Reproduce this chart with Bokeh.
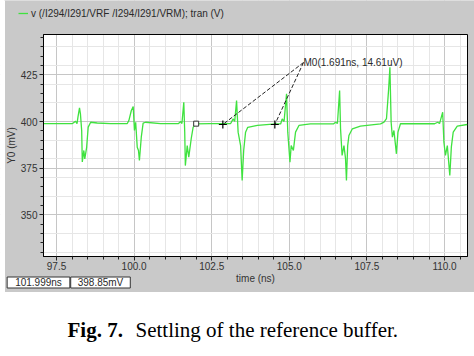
from bokeh.plotting import figure
from bokeh.models import (Label, FixedTicker, Grid, PrintfTickFormatter, Range1d,
                          SingleIntervalTicker, Legend, LegendItem)
from bokeh.embed import file_html
from bokeh.resources import INLINE

# ---- data ----
time_ns = [
    97.09, 98.00, 98.04, 98.11, 98.16, 98.19, 98.24, 98.27, 98.31, 98.33, 98.38, 98.41, 98.47, 98.52, 98.60, 98.81, 99.24,
    99.78, 99.83, 99.91, 99.97, 100.01, 100.05, 100.10, 100.14, 100.17, 100.23, 100.29, 100.37, 100.85,
    101.43, 101.50, 101.54, 101.60, 101.63, 101.65, 101.71, 101.76, 101.84, 101.90, 101.98, 102.46,
    103.11, 103.19, 103.24, 103.30, 103.35, 103.43, 103.48, 103.53, 103.59, 103.66, 103.97, 104.56,
    104.72, 104.77, 104.83, 104.91, 104.95, 105.02, 105.06, 105.13, 105.20, 105.31, 105.68,
    106.42, 106.49, 106.55, 106.62, 106.65, 106.70, 106.76, 106.81, 106.84, 106.88, 106.92, 107.03, 107.29, 107.94,
    108.05, 108.13, 108.20, 108.24, 108.28, 108.32, 108.37, 108.45, 108.50, 108.58, 109.23,
    109.68, 109.78, 109.84, 109.94, 109.98, 110.03, 110.09, 110.17, 110.22, 110.28, 110.41, 110.73,
]
v_mv = [
    398.85, 398.85, 399.2, 400.2, 398.9, 402.3, 407.3, 404.1, 395.2, 378.3, 384.5, 380.0, 386.2, 397.0, 399.6, 399.2, 398.9,
    398.9, 400.5, 405.9, 408.0, 395.2, 399.6, 386.2, 384.5, 379.1, 391.6, 399.1, 399.6, 398.9,
    398.9, 400.0, 398.9, 410.3, 394.3, 376.4, 387.1, 380.9, 390.9, 396.9, 398.7, 398.85,
    398.9, 401.4, 400.0, 411.2, 394.3, 387.1, 368.4, 384.6, 394.3, 396.9, 397.9, 398.7,
    398.7, 401.4, 400.0, 414.8, 394.3, 378.2, 387.1, 384.5, 394.3, 397.9, 398.7,
    398.7, 399.6, 398.9, 416.6, 396.1, 381.8, 387.1, 380.2, 368.4, 387.1, 392.5, 396.1, 397.5, 398.7,
    399.7, 401.6, 417.5, 429.1, 399.6, 391.6, 395.2, 382.7, 394.3, 398.8, 398.8,
    398.8, 399.6, 398.9, 405.0, 388.9, 381.8, 387.1, 371.1, 386.4, 394.3, 397.5, 398.4,
]

x_range_ns = [97.08, 110.74]      # visible time window of the plot area
y_range_mv = [327.7, 446.6]       # visible voltage window of the plot area
y_minor_grid = [330, 340, 360, 370, 380, 390, 410, 420, 430, 440]

cursor_t = [101.999]
cursor_v = [398.85]
marker_t = [102.858, 104.533]
marker_v = [398.4, 398.4]
marker_label_t = [105.457, 105.457]
marker_label_v = [431.6, 431.6]

legend_text = "v (/I294/I291/VRF /I294/I291/VRM); tran (V)"
marker_text = "M0(1.691ns, 14.61uV)"
cursor_time_text = "101.999ns"
cursor_value_text = "398.85mV"
x_title = "time (ns)"
y_title = "Y0 (mV)"
caption_bold = "Fig. 7."
caption_rest = "Settling of  the reference buffer."

FONT = "Liberation Sans"
GRAY = "#c9c9c9"
GREEN = "#3fe23f"
TXT = "#2a2a2a"

# ---- page geometry (pixels) ----
PX_W, PX_H = 474, 356
PLOT_L, PLOT_R, PLOT_T, PLOT_B = 43, 467, 34, 256
PANEL_L, PANEL_B = 4, 292

ns_per_px = (x_range_ns[1] - x_range_ns[0]) / (PLOT_R - PLOT_L)
mv_per_px = (y_range_mv[1] - y_range_mv[0]) / (PLOT_B - PLOT_T)
xr = Range1d(x_range_ns[0] - PLOT_L * ns_per_px, x_range_ns[1] + (PX_W - PLOT_R) * ns_per_px)
yr = Range1d(y_range_mv[0] - (PX_H - PLOT_B) * mv_per_px, y_range_mv[1] + PLOT_T * mv_per_px)

p = figure(width=PX_W, height=PX_H, output_backend="svg", toolbar_location=None,
           x_range=xr, y_range=yr,
           min_border_left=0, min_border_right=0, min_border_top=0, min_border_bottom=0,
           background_fill_color="white", border_fill_color="white",
           outline_line_color=None)
p.extra_x_ranges = {"px": Range1d(0, PX_W)}
p.extra_y_ranges = {"px": Range1d(PX_H, 0)}

# gray instrument panel around the plot area, white page outside it
p.quad(left=[PANEL_L, PANEL_L, PANEL_L, PLOT_R], right=[PX_W, PX_W, PLOT_L, PX_W],
       top=[0, PLOT_B, PLOT_T, PLOT_T], bottom=[PLOT_T, PANEL_B, PLOT_B, PLOT_B],
       x_range_name="px", y_range_name="px", fill_color=GRAY, line_color=GRAY)
p.quad(left=[0, 0], right=[PANEL_L, PX_W], top=[0, PANEL_B], bottom=[PANEL_B, PX_H],
       x_range_name="px", y_range_name="px", fill_color="white", line_color="white")

# axes pinned to the plot-area edges
for ax in (p.xaxis[0], p.yaxis[0]):
    ax.axis_line_color = "black"
    ax.major_tick_out = 4
    ax.major_tick_in = 0
    ax.minor_tick_out = 3
    ax.minor_tick_in = 0
    ax.major_tick_line_color = "#222222"
    ax.minor_tick_line_color = "#222222"
    ax.major_label_text_font = FONT
    ax.major_label_text_font_size = "10px"
    ax.major_label_text_color = "#333333"
    ax.major_label_standoff = 2
    ax.axis_label_text_font = FONT
    ax.axis_label_text_font_size = "10px"
    ax.axis_label_text_font_style = "normal"
    ax.axis_label_text_color = "#333333"
    ax.axis_label_standoff = 1

p.xaxis.ticker = SingleIntervalTicker(interval=2.5, num_minor_ticks=5)
p.xaxis.formatter = PrintfTickFormatter(format="%.1f")
p.xaxis.fixed_location = y_range_mv[0]
p.xaxis.bounds = tuple(x_range_ns)
p.xaxis.major_label_standoff = 1
p.xaxis.axis_label_standoff = 0
p.xaxis.axis_label = x_title
p.yaxis.ticker = SingleIntervalTicker(interval=25, num_minor_ticks=5)
p.yaxis.fixed_location = x_range_ns[0]
p.yaxis.bounds = tuple(y_range_mv)
p.yaxis.axis_label = y_title

p.xgrid.grid_line_color = "#c6c6c6"
p.xgrid.minor_grid_line_color = "#e6e6e6"
p.ygrid.grid_line_color = "#c6c6c6"
p.ygrid.minor_grid_line_color = None
p.add_layout(Grid(dimension=1, ticker=FixedTicker(ticks=y_minor_grid),
                  grid_line_color="#e6e6e6"), "center")

# plot-area outline
p.quad(left=[x_range_ns[0]], right=[x_range_ns[1]], bottom=[y_range_mv[0]], top=[y_range_mv[1]],
       fill_alpha=0, line_color="black", line_width=1)

trace = p.line(time_ns, v_mv, line_color=GREEN, line_width=1.3)

p.segment(x0=marker_label_t, y0=marker_label_v, x1=marker_t, y1=marker_v,
          line_color="#222222", line_width=1, line_dash="4 2")
p.scatter(marker_t, marker_v, marker="cross", size=8, line_color="black", line_width=1.2)
p.scatter(cursor_t, cursor_v, marker="square", size=5, fill_color="white",
          line_color="#333333", line_width=1)

p.add_layout(Label(x=marker_label_t[0], y=marker_label_v[0], text=marker_text,
                   text_font=FONT, text_font_size="10px", text_color=TXT,
                   text_baseline="middle", text_align="left"))

legend = Legend(items=[LegendItem(label=legend_text, renderers=[trace])],
                location=(18, 337), orientation="horizontal",
                border_line_color=None, background_fill_alpha=0,
                padding=0, margin=0, spacing=0,
                glyph_width=10, glyph_height=12, label_height=12, label_standoff=3,
                label_text_font=FONT, label_text_font_size="10px",
                label_text_color=TXT)
p.add_layout(legend)

# cursor read-out boxes
p.add_layout(Label(x=38, y=282, x_range_name="px", y_range_name="px",
                   text=cursor_time_text, text_font=FONT, text_font_size="10px",
                   text_color=TXT, text_baseline="middle", text_align="center",
                   background_fill_color="white", border_line_color="#333333",
                   padding=(8, 0)))
p.add_layout(Label(x=100, y=282, x_range_name="px", y_range_name="px",
                   text=cursor_value_text, text_font=FONT, text_font_size="10px",
                   text_color=TXT, text_baseline="middle", text_align="center",
                   background_fill_color="white", border_line_color="#333333",
                   padding=(7, 0)))

# caption
p.add_layout(Label(x=67, y=329, x_range_name="px", y_range_name="px", text=caption_bold,
                   text_font="Liberation Serif", text_font_size="21px",
                   text_font_style="bold", text_color="black",
                   text_baseline="alphabetic", text_align="left"))
p.add_layout(Label(x=135, y=329, x_range_name="px", y_range_name="px", text=caption_rest,
                   text_font="Liberation Serif", text_font_size="21px",
                   text_color="black", text_baseline="alphabetic", text_align="left"))

open("out.html", "w").write(file_html(p, INLINE))
